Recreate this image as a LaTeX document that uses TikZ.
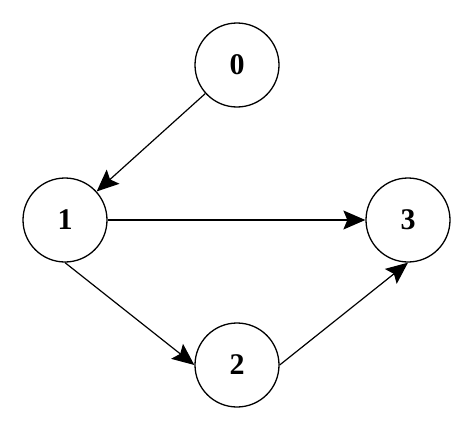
\documentclass[tikz,border=0pt]{standalone}
\usepackage{fontspec}
\setmainfont{Liberation Serif}
\usetikzlibrary{arrows.meta}
\begin{document}
\begin{tikzpicture}[x=1pt,y=-1pt,
  vert/.style={circle,draw,line width=1.3pt,minimum size=84pt,inner sep=0pt,font=\fontsize{30}{30}\selectfont\bfseries},
  edge/.style={line width=1.2pt,-{Stealth[length=22pt,width=19pt,inset=4pt]}}]
\useasboundingbox (0,0) rectangle (474,431);
\node[vert] (n0) at (237,65) {0};
\node[vert] (n1) at (65,220) {1};
\node[vert] (n3) at (408,220) {3};
\node[vert] (n2) at (237,365) {2};
\draw[edge] (n0) -- (n1);
\draw[edge] (n1) -- (n3);
\draw[edge] (n1.south) -- (n2.west);
\draw[edge] (n2.east) -- (n3.south);
\end{tikzpicture}
\end{document}
